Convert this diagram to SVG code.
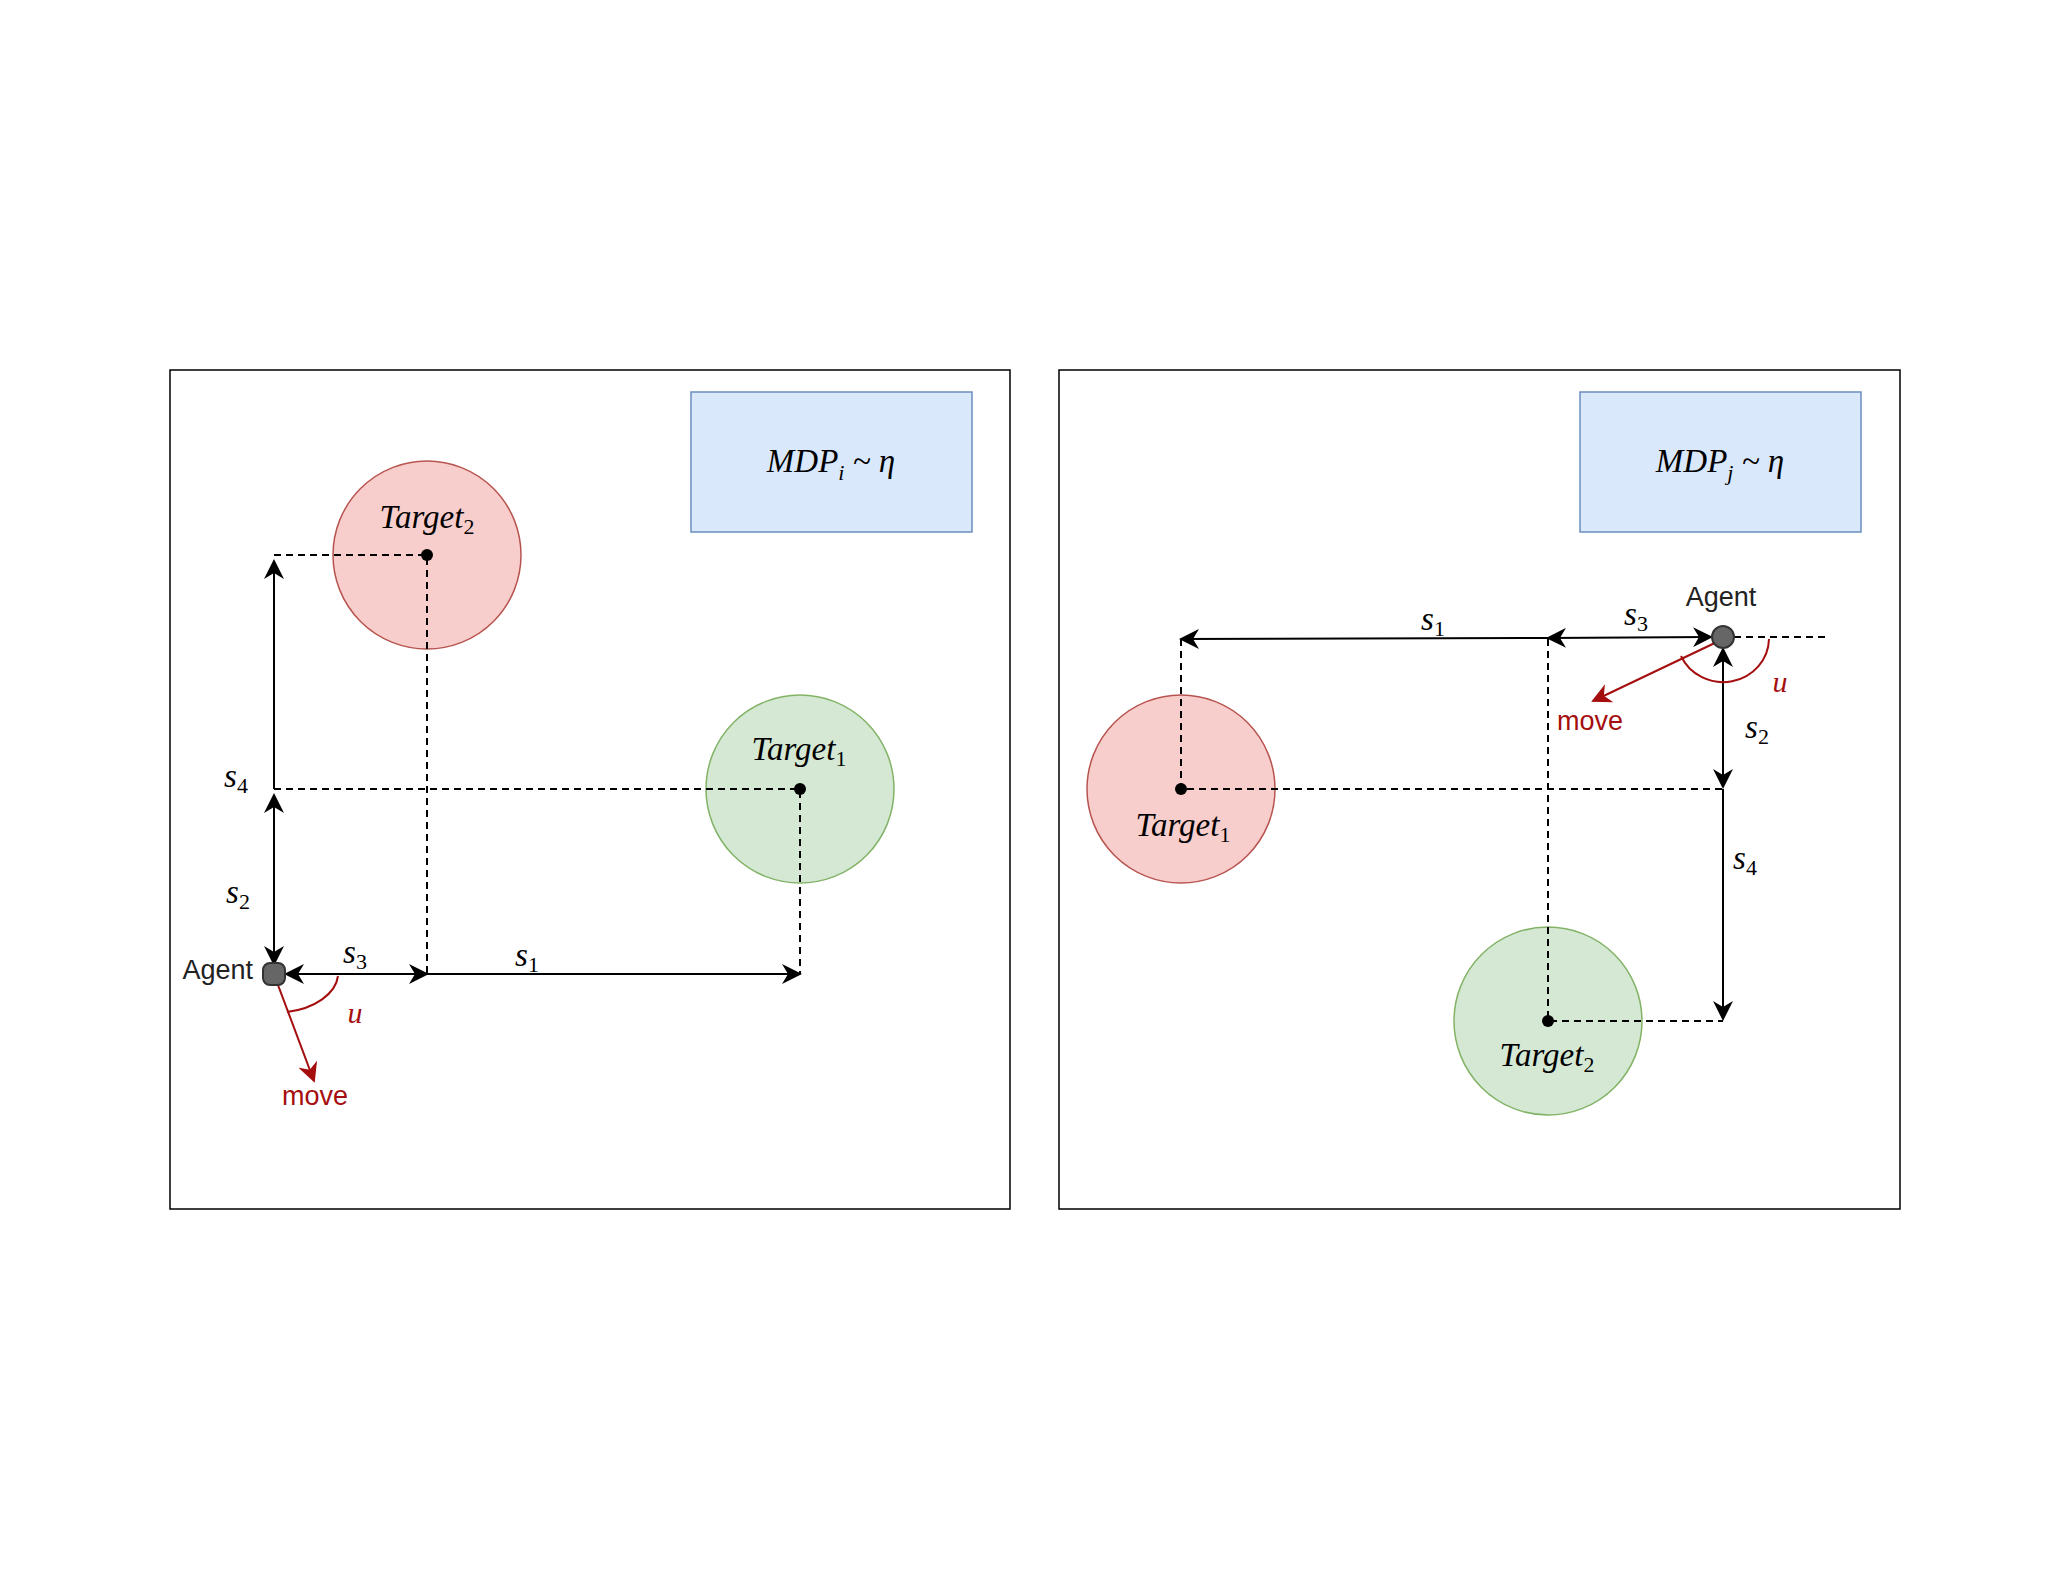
<svg xmlns="http://www.w3.org/2000/svg" width="2048" height="1582" viewBox="0 0 2048 1582">
<style>
.panel{fill:#fff;stroke:#000;stroke-width:1.5}
.box{fill:#dae8fc;stroke:#6c8ebf;stroke-width:1.5}
.red{fill:#f8cecc;stroke:#b85450;stroke-width:1.5}
.green{fill:#d5e8d4;stroke:#82b366;stroke-width:1.5}
.dash{fill:none;stroke:#000;stroke-width:2;stroke-dasharray:7 5}
.arr{fill:none;stroke:#000;stroke-width:2}
.mv{fill:none;stroke:#a50e0e;stroke-width:2}
.m{font-family:"Liberation Serif",serif;font-style:italic;font-size:33px;fill:#000}
.sub{font-size:22px;font-style:normal}
.isub{font-size:22px}
.lab{font-family:"Liberation Sans",sans-serif;font-size:27px;fill:#222}
.mvt{font-family:"Liberation Sans",sans-serif;font-size:27px;fill:#a50e0e}
.u{font-family:"Liberation Serif",serif;font-style:italic;font-size:30px;fill:#a50e0e}
.agent{fill:#666;stroke:#333;stroke-width:2}
</style>
<defs>
<marker id="ahb" viewBox="0 0 10 10" refX="9" refY="5" markerWidth="20" markerHeight="20" markerUnits="userSpaceOnUse" orient="auto-start-reverse"><path d="M0,0 L10,5 L0,10 L3,5 Z" fill="#000"/></marker>
<marker id="ahr" viewBox="0 0 10 10" refX="9" refY="5" markerWidth="20" markerHeight="20" markerUnits="userSpaceOnUse" orient="auto"><path d="M0,0 L10,5 L0,10 L3,5 Z" fill="#a50e0e"/></marker>
</defs>
<rect width="2048" height="1582" fill="#fff"/>
<!-- Left panel -->
<rect id="panelLeft" class="panel" x="170" y="370" width="840" height="839"/>
<g id="mdpi"><rect class="box" x="691" y="392" width="281" height="140"/>
<text class="m" x="831" y="472" text-anchor="middle">MDP<tspan class="isub" dy="8">i</tspan><tspan dy="-8"> ~ η</tspan></text></g>
<g id="L_target2"><circle class="red" cx="427" cy="555" r="94"/><text class="m" x="427" y="528" text-anchor="middle">Target<tspan class="sub" dy="6">2</tspan></text></g>
<g id="L_target1"><circle class="green" cx="800" cy="789" r="94"/><text class="m" x="799" y="760" text-anchor="middle">Target<tspan class="sub" dy="6">1</tspan></text></g>
<g id="L_connectors">
<path class="dash" d="M274,555 H427 V974 M274,789 H800 V974"/>
<line class="arr" x1="274" y1="789" x2="274" y2="561" marker-end="url(#ahb)"/>
<line class="arr" x1="274" y1="964" x2="274" y2="795" marker-start="url(#ahb)" marker-end="url(#ahb)"/>
<line class="arr" x1="286" y1="974" x2="427" y2="974" marker-start="url(#ahb)" marker-end="url(#ahb)"/>
<line class="arr" x1="427" y1="974" x2="800" y2="974" marker-end="url(#ahb)"/>
<line class="mv" x1="278" y1="985" x2="314" y2="1081" marker-end="url(#ahr)"/>
<path class="mv" d="M338,976 A64,40 0 0 1 287,1012"/>
<circle cx="427" cy="555" r="6" fill="#000"/><circle cx="800" cy="789" r="6" fill="#000"/>
</g>
<g id="L_agent"><rect class="agent" x="263" y="963" width="22" height="22" rx="7"/><text class="lab" x="253" y="979" text-anchor="end">Agent</text></g>
<g id="L_labels">
<text class="m" x="236" y="787" text-anchor="middle">s<tspan class="sub" dy="6">4</tspan></text>
<text class="m" x="238" y="903" text-anchor="middle">s<tspan class="sub" dy="6">2</tspan></text>
<text class="m" x="355" y="963" text-anchor="middle">s<tspan class="sub" dy="6">3</tspan></text>
<text class="m" x="527" y="966" text-anchor="middle">s<tspan class="sub" dy="6">1</tspan></text>
<text class="u" x="355" y="1023" text-anchor="middle">u</text>
<text class="mvt" x="315" y="1105" text-anchor="middle">move</text>
</g>
<!-- Right panel -->
<rect id="panelRight" class="panel" x="1059" y="370" width="841" height="839"/>
<g id="mdpj"><rect class="box" x="1580" y="392" width="281" height="140"/>
<text class="m" x="1720" y="472" text-anchor="middle">MDP<tspan class="isub" dy="8">j</tspan><tspan dy="-8"> ~ η</tspan></text></g>
<g id="R_target1"><circle class="red" cx="1181" cy="789" r="94"/><text class="m" x="1183" y="836" text-anchor="middle">Target<tspan class="sub" dy="6">1</tspan></text></g>
<g id="R_target2"><circle class="green" cx="1548" cy="1021" r="94"/><text class="m" x="1547" y="1066" text-anchor="middle">Target<tspan class="sub" dy="6">2</tspan></text></g>
<g id="R_connectors">
<path class="dash" d="M1181,639 V789 H1723 M1548,639 V1021 H1723 M1734,637 H1826"/>
<line class="arr" x1="1548" y1="638" x2="1181" y2="639" marker-end="url(#ahb)"/>
<line class="arr" x1="1548" y1="638" x2="1711" y2="637" marker-start="url(#ahb)" marker-end="url(#ahb)"/>
<line class="arr" x1="1723" y1="649" x2="1723" y2="787" marker-start="url(#ahb)" marker-end="url(#ahb)"/>
<line class="arr" x1="1723" y1="789" x2="1723" y2="1019" marker-end="url(#ahb)"/>
<line class="mv" x1="1719" y1="641" x2="1593" y2="701" marker-end="url(#ahr)"/>
<path class="mv" d="M1769,639 A46,44 0 0 1 1681,656"/>
<circle cx="1181" cy="789" r="6" fill="#000"/><circle cx="1548" cy="1021" r="6" fill="#000"/>
</g>
<g id="R_agent"><circle class="agent" cx="1723" cy="637" r="11"/><text class="lab" x="1721" y="606" text-anchor="middle">Agent</text></g>
<g id="R_labels">
<text class="m" x="1433" y="630" text-anchor="middle">s<tspan class="sub" dy="6">1</tspan></text>
<text class="m" x="1636" y="625" text-anchor="middle">s<tspan class="sub" dy="6">3</tspan></text>
<text class="m" x="1757" y="738" text-anchor="middle">s<tspan class="sub" dy="6">2</tspan></text>
<text class="m" x="1745" y="869" text-anchor="middle">s<tspan class="sub" dy="6">4</tspan></text>
<text class="u" x="1780" y="692" text-anchor="middle">u</text>
<text class="mvt" x="1590" y="730" text-anchor="middle">move</text>
</g>
</svg>
